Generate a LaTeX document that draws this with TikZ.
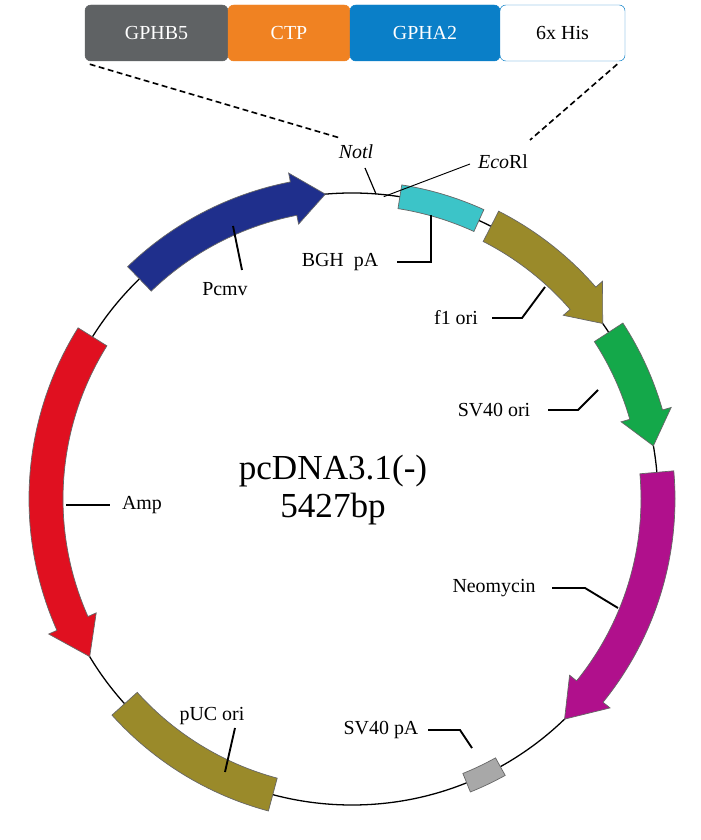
\documentclass[tikz,border=0pt]{standalone}
\usepackage{fontspec}
\setmainfont{Liberation Serif}
\definecolor{cblue}{HTML}{1F2F8C}
\definecolor{ccyan}{HTML}{3CC4C8}
\definecolor{colive}{HTML}{9A8A2A}
\definecolor{cgreen}{HTML}{14A84A}
\definecolor{cmag}{HTML}{B0108C}
\definecolor{cred}{HTML}{E01020}
\definecolor{cgrey}{HTML}{A8A8A8}
\definecolor{bgray}{HTML}{5F6264}
\definecolor{borange}{HTML}{F08222}
\definecolor{bblue}{HTML}{0A7FC8}
\newcommand\plarrow[5]{% start, tip, color, halfwidth, signed head angle
  \pgfmathsetmacro\hA{#2+#5}
  \fill[#3,draw=black!60,line width=0.6] (#1:306-#4) arc[start angle=#1,end angle=\hA,radius=306-#4]
   -- (\hA:306-#4-9) -- (#2:306) -- (\hA:306+#4+9) -- (\hA:306+#4)
   arc[start angle=\hA,end angle=#1,radius=306+#4] -- cycle;}
\newcommand\plrect[4]{%
  \fill[#3,draw=black!60,line width=0.6] (#1:306-#4) arc[start angle=#1,end angle=#2,radius=306-#4]
   -- (#2:306+#4) arc[start angle=#2,end angle=#1,radius=306+#4] -- cycle;}
\begin{document}
\begin{tikzpicture}[x=0.03cm,y=0.03cm,
  lab/.style={font=\fontsize{17}{19}\selectfont},
  lead/.style={line width=1.6pt},
  box/.style={draw=#1,fill=#1,rounded corners=5,minimum width=0,inner sep=0,font=\fontsize{17}{19}\selectfont}]
\useasboundingbox (0,0) rectangle (700,840);
\fill[white] (0,0) rectangle (700,840);
% top construct
\node[box=bgray,text=white,minimum width=143*0.03cm,minimum height=56*0.03cm] (b1) at (156.5,807) {GPHB5};
\node[box=borange,text=white,minimum width=122*0.03cm,minimum height=56*0.03cm] (b2) at (289,807) {CTP};
\node[box=bblue,text=white,minimum width=150*0.03cm,minimum height=56*0.03cm] (b3) at (425,807) {GPHA2};
\node[draw=bblue,fill=white,rounded corners=5,minimum width=125*0.03cm,minimum height=56*0.03cm,font=\fontsize{17}{19}\selectfont] (b4) at (562.5,807) {6x His};
\coordinate (d1) at (340,702);
\coordinate (d2) at (530,700);
\draw[dash pattern=on 5pt off 3pt,line width=1.4pt] (b1.south west) ++(5,-3) -- (d1);
\draw[dash pattern=on 5pt off 3pt,line width=1.4pt] (b4.south east) ++(-8,-3) -- (d2);
% plasmid
\begin{scope}[shift={(352,341)}]
\draw[line width=1.1pt] (0,0) circle (306);
\plarrow{134}{95}{cblue}{17}{6}
\plrect{81}{65.5}{ccyan}{12}
\plarrow{63}{35}{colive}{17}{6}
\plarrow{33}{10}{cgreen}{17}{6}
\plarrow{5}{-46}{cmag}{17}{7}
\plrect{-61}{-68}{cgrey}{10}
\plrect{222}{255}{colive}{17}
\plarrow{148}{211}{cred}{17}{-7}
\coordinate (n1) at (85.5:306);
\coordinate (e1) at (84:304);
\end{scope}
% NotI / EcoRI
\coordinate (n2) at (365,672);
\draw[line width=1pt] (n1) -- (n2);
\node[lab,font=\fontsize{17}{19}\selectfont\itshape] (notl) at (356,688) {Notl};
\coordinate (e2) at (470,676);
\draw[line width=0.8pt] (e1) -- (e2);
\node[lab,anchor=west] (eco) at (474,678) {\textit{Eco}Rl};
% center
\node[font=\fontsize{30}{33}\selectfont,align=center] (ctr) at (333,350) {pcDNA3.1(-)\\5427bp};
% labels
\node[lab] (pcmv) at (225,551) {Pcmv};
\draw[lead] (233,614) -- (242,570);
\node[lab] (bgh) at (340,578) {BGH\ \ pA};
\draw[lead] (431,625) -- (431,578) -- (397,578);
\node[lab] (f1) at (456,522) {f1 ori};
\draw[lead] (545,553) -- (522,522) -- (492,522);
\node[lab] (sv) at (494,430) {SV40 ori};
\draw[lead] (598,450) -- (578,430) -- (548,430);
\node[lab] (amp) at (142,335) {Amp};
\draw[lead] (66,335) -- (110,335);
\node[lab] (neo) at (494,252) {Neomycin};
\draw[lead] (552,252) -- (585,252) -- (618,232);
\node[lab] (svpa) at (381,110) {SV40 pA};
\draw[lead] (428,110) -- (460,110) -- (472,92);
\node[lab] (puc) at (212,124) {pUC ori};
\draw[lead] (235,112) -- (225,68);
\end{tikzpicture}
\end{document}
